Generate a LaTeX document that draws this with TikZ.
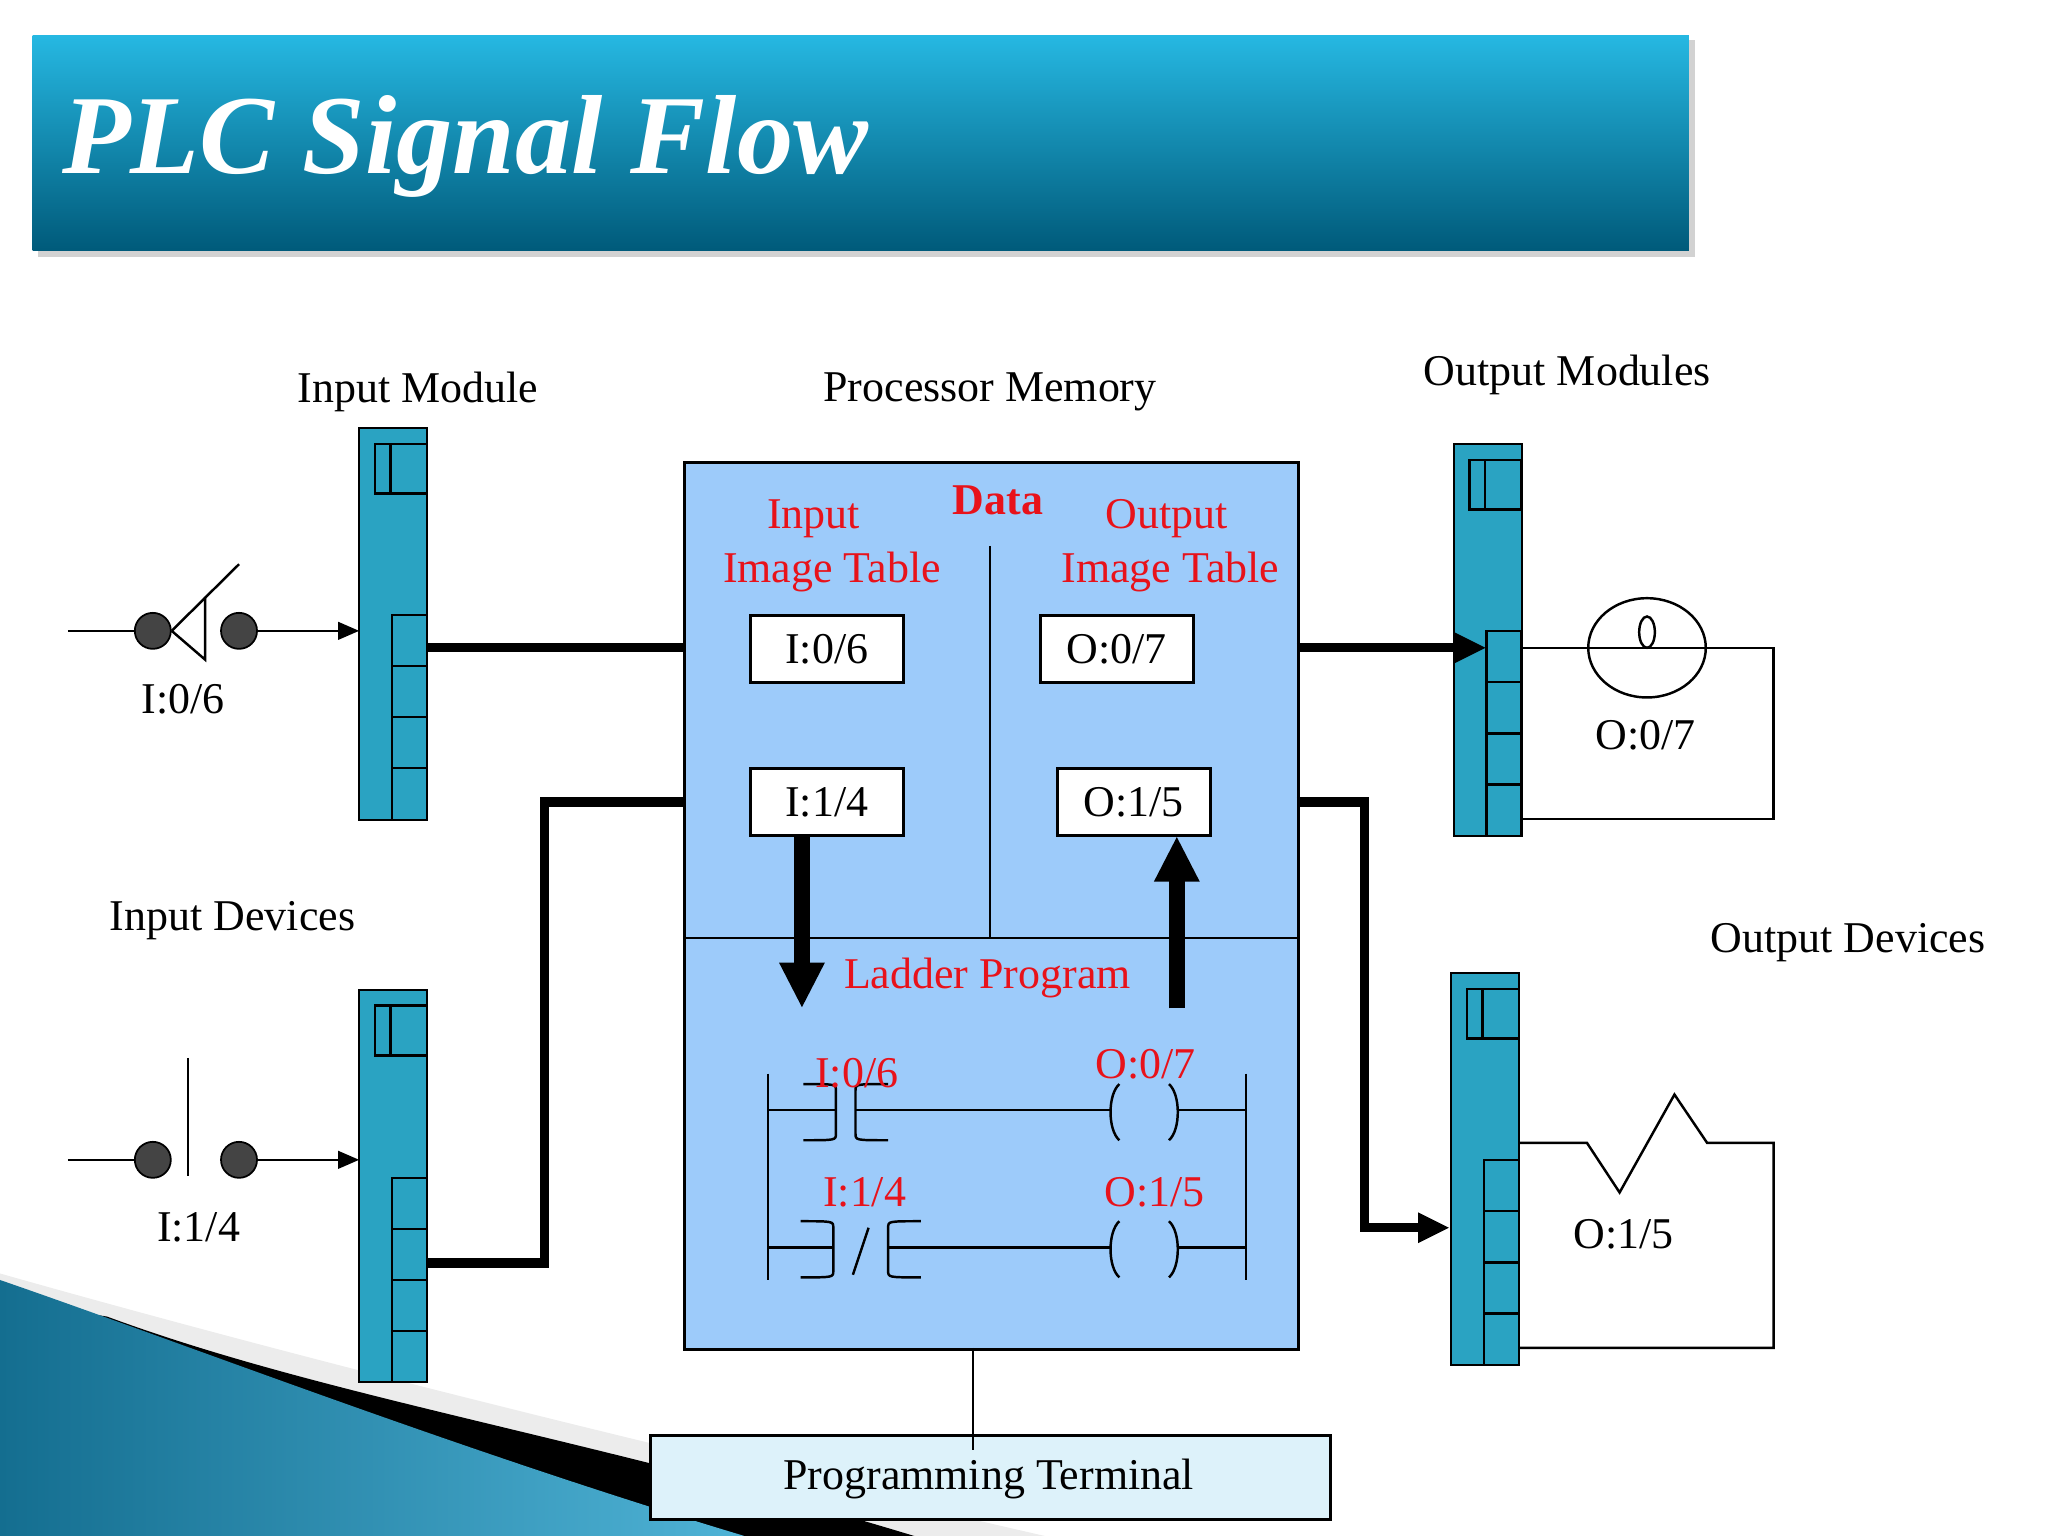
\documentclass[tikz,border=0pt]{standalone}
\usepackage{fontspec}
\setmainfont{Liberation Serif}
\usetikzlibrary{arrows.meta}
\definecolor{mod}{HTML}{2AA3C2}
\definecolor{mem}{HTML}{9DCBFA}
\definecolor{term}{HTML}{DDF2FA}
\definecolor{lbl}{HTML}{E8121A}
\definecolor{dot}{HTML}{444444}
\definecolor{decoA}{HTML}{146E90}
\definecolor{decoB}{HTML}{4FB3D6}
\tikzset{
 lab/.style={font=\fontsize{12.5}{14}\selectfont},
 red/.style={text=lbl,font=\fontsize{12.5}{14}\selectfont},
 box/.style={draw,fill=white,line width=0.8pt,minimum width=1.53cm,minimum height=0.67cm,inner sep=0pt,font=\fontsize{12.5}{14}\selectfont},
 thick wire/.style={line width=2.6pt},
 modfill/.style={fill=mod,draw=black,line width=0.6pt},
 sw/.style={fill=dot,draw=black,line width=0.5pt},
 thin/.style={line width=0.7pt},
 bigarrow/.style={line width=4.5pt,-{Triangle[length=13pt,width=12pt]}},
}
\begin{document}
\begin{tikzpicture}[x=0.013061cm,y=-0.013061cm]
\useasboundingbox (0,0) rectangle (1568,1176);
% decoration bottom-left
\fill[gray!15] (0,975) .. controls (300,1060) and (600,1130) .. (800,1176) -- (0,1176) -- cycle;
\fill[black] (0,995) -- (82,1008) .. controls (250,1070) and (450,1100) .. (700,1176) -- (0,1176) -- cycle;
\shade[left color=decoA,right color=decoB] (0,980) .. controls (145,1030) and (350,1110) .. (570,1176) -- (0,1176) -- cycle;
% title bar
\fill[gray!35] (29,31) rectangle (1298,197);
\shade[top color={rgb,255:red,38;green,184;blue,226},bottom color={rgb,255:red,0;green,90;blue,122}] (25,27) rectangle (1293,192);
\node[anchor=west,text=white,font=\fontsize{32}{36}\selectfont\bfseries\itshape] (title) at (38,112) {PLC Signal Flow};
% headings
\node[lab] (im) at (320,300) {Input Module};
\node[lab] (pm) at (758,300) {Processor Memory};
\node[lab] (om) at (1200,287) {Output Modules};
\node[lab] (id) at (178,705) {Input Devices};
\node[lab] (od) at (1415,722) {Output Devices};
% modules
\foreach \n/\x/\y/\s/\d in {m1/275/328/471/39, m2/275/758/902/39, m3/1113/340/483/39.25, m4/1111/745/888/39.25}{
 \draw[modfill] (\x,\y) rectangle ++(52,300);
 \draw[thin] (\x+12,\y+12) rectangle ++(40,38);
 \draw[thin] (\x+24,\y+12) -- ++(0,38);
 \draw[thin] (\x+25,\s) rectangle (\x+52,\y+300);
 \foreach \k in {1,2,3} \draw[thin] (\x+25,\s+\k*\d) -- ++(27,0);
}
\coordinate (m1o) at (327,496);
\coordinate (m2o) at (327,967);
\coordinate (m3i) at (1138,496);
\coordinate (m4i) at (1110,940);
% memory
\node[draw,fill=mem,line width=0.8pt,minimum width=6.14cm,minimum height=8.87cm,inner sep=0,anchor=north west] (mem) at (523,353) {};
\draw[thin] (523,718) -- (993,718);
\draw[thin] (758,418) -- (758,718);
\node[text=lbl,font=\fontsize{12.5}{14}\selectfont\bfseries] (data) at (764,383) {Data};
\node[red] (it1) at (623,397) {Input};
\node[red] (it2) at (637,438) {Image Table};
\node[red] (ot1) at (893,397) {Output};
\node[red] (ot2) at (896,438) {Image Table};
\node[box] (b1) at (633,497) {I:0/6};
\node[box] (b2) at (855,497) {O:0/7};
\node[box] (b3) at (633,614) {I:1/4};
\node[box] (b4) at (868,614) {O:1/5};
\node[red] (lp) at (756,749) {Ladder Program};
\draw[bigarrow] (614,640) -- (614,772);
\draw[bigarrow] (901,772) -- (901,640);
% ladder
\draw[thin] (588,822) -- (588,980);
\draw[thin] (954,822) -- (954,980);
\foreach \y/\a/\b in {850/640/655,955/638/680}{
 \draw[thin] (588,\y) -- (\a,\y);
 \draw[thin] (\a-25,\y-20) .. controls (\a,\y-20) .. (\a,\y-15) -- (\a,\y+18) .. controls (\a,\y+23) .. (\a-25,\y+23);
 \draw[thin] (\b+25,\y-20) .. controls (\b,\y-20) .. (\b,\y-15) -- (\b,\y+18) .. controls (\b,\y+23) .. (\b+25,\y+23);
 \draw[thin] (\b,\y) -- (850,\y);
 \draw[thin] (857,\y-20) .. controls (848,\y-12) and (848,\y+15) .. (857,\y+23);
 \draw[thin] (895,\y-20) .. controls (904,\y-12) and (904,\y+15) .. (895,\y+23);
 \draw[thin] (902,\y) -- (954,\y);
}
\draw[thin] (653,976) -- (665,940);
\node[red] (l1) at (656,822) {I:0/6};
\node[red] (l2) at (877,815) {O:0/7};
\node[red] (l3) at (662,913) {I:1/4};
\node[red] (l4) at (884,913) {O:1/5};
% wires
\draw[thick wire] (m1o) -- (mem.west |- m1o);
\draw[thick wire] (m2o) -- (417,967) -- (417,614) -- (523,614);
\draw[thick wire,-{Triangle[length=9pt,width=8pt]}] (993,496) -- (m3i);
\draw[thick wire,-{Triangle[length=9pt,width=8pt]}] (993,614) -- (1045,614) -- (1045,940) -- (m4i);
% input devices
\coordinate (s1a) at (52,483);
\coordinate (s2a) at (52,888);
\node[sw,circle,minimum size=0.36cm,inner sep=0] (c1) at (117,483) {};
\node[sw,circle,minimum size=0.36cm,inner sep=0] (c2) at (183,483) {};
\node[sw,circle,minimum size=0.36cm,inner sep=0] (c3) at (117,888) {};
\node[sw,circle,minimum size=0.36cm,inner sep=0] (c4) at (183,888) {};
\draw[thin] (s1a) -- (c1);
\draw[thin] (c1.east) -- (183,432);
\draw[thin] (c1.east) -- (157,505) -- (157,457);
\draw[thin,-{Triangle[length=6pt,width=5pt]}] (c2) -- (275,483);
\draw[thin] (s2a) -- (c3);
\draw[thin] (144,810) -- (144,900);
\draw[thin,-{Triangle[length=6pt,width=5pt]}] (c4) -- (275,888);
\node[lab] (i06) at (140,535) {I:0/6};
\node[lab] (i14) at (152,940) {I:1/4};
% output devices
\draw[thin] (1165,496) -- (1358,496) -- (1358,627) -- (1165,627);
\draw[thin] (1261,496) ellipse (45 and 38);
\draw[thin] (1261,484) ellipse (6 and 12);
\node[lab] (o07) at (1260,563) {O:0/7};
\draw[thin] (1163,875) -- (1215,875) -- (1240,913) -- (1282,838) -- (1307,875) -- (1358,875) -- (1358,1032) -- (1163,1032);
\node[lab] (o15) at (1243,945) {O:1/5};
% terminal
\node[draw,fill=term,line width=0.8pt,minimum width=6.8cm,minimum height=0.84cm,anchor=north west,inner sep=0] (pt) at (497,1098) {};
\node[lab] (ptl) at (757,1132) {Programming Terminal};
\draw[thin] (745,1032) -- (745,1110);
\end{tikzpicture}
\end{document}
